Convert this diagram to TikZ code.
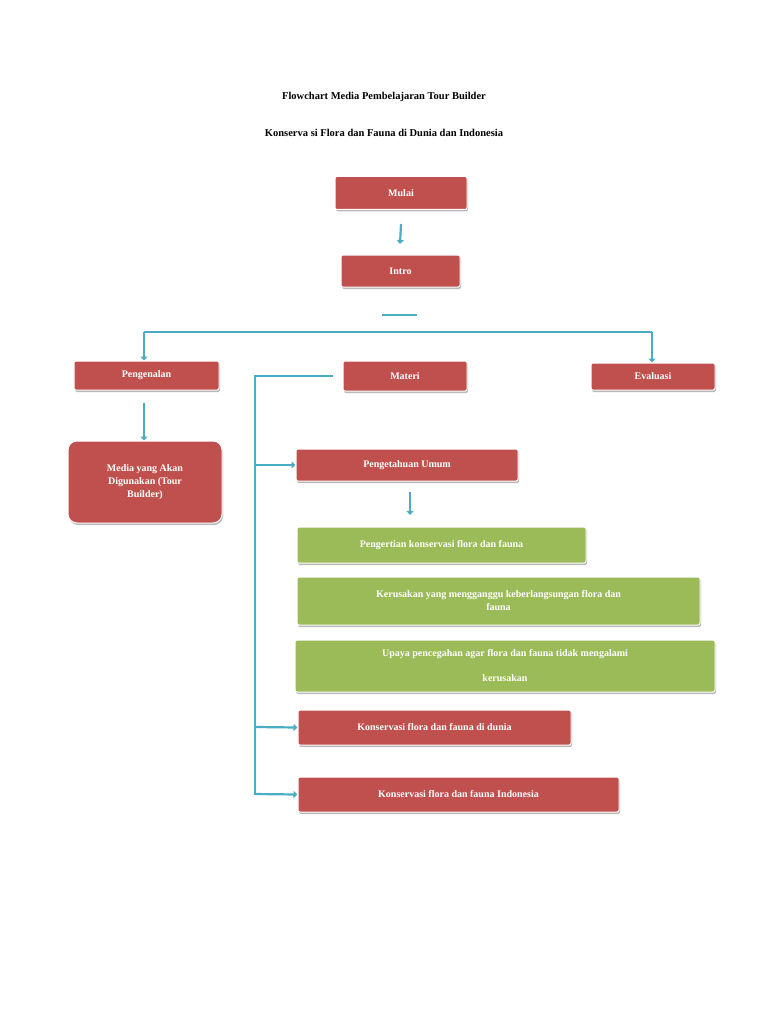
\documentclass[tikz,border=0pt]{standalone}
\usepackage{fontspec}
\setmainfont{Liberation Serif}
\usetikzlibrary{shadows,arrows.meta}
\definecolor{boxred}{HTML}{C0504D}
\definecolor{boxgreen}{HTML}{9BBB59}
\definecolor{link}{HTML}{4BACC6}
\begin{document}
\begin{tikzpicture}[x=1pt,y=-1pt,
  box/.style={draw=white,line width=1pt,rounded corners=2pt,text=white,font=\bfseries\fontsize{10}{13}\selectfont,
    align=center,inner sep=0pt,drop shadow={shadow xshift=1pt,shadow yshift=-2pt,fill=gray!55,opacity=1}},
  red/.style={box,fill=boxred},
  green/.style={box,fill=boxgreen},
  con/.style={draw=link,line width=2.2pt},
  arr/.style={con,-{Triangle[length=4pt,width=7pt]}}]
\useasboundingbox (0,0) rectangle (768,1024);
\node[font=\bfseries\fontsize{10.5}{13}\selectfont] (t1) at (384,97) {Flowchart Media Pembelajaran Tour Builder};
\node[font=\bfseries\fontsize{10.5}{13}\selectfont] (t2) at (384,133) {Konserva si Flora dan Fauna di Dunia dan Indonesia};
\node[red,minimum width=132,minimum height=33] (mulai) at (401,193) {Mulai};
\node[red,minimum width=119,minimum height=32] (intro) at (400.5,271) {Intro};
\node[red,minimum width=145,minimum height=29] (peng) at (146.5,375.5) {Pengenalan};
\node[red,minimum width=124,minimum height=30] (materi) at (405,376) {Materi};
\node[red,minimum width=124,minimum height=27] (eval) at (653,376.5) {Evaluasi};
\node[red,minimum width=154,minimum height=82,rounded corners=9pt] (media) at (145,482) {Media yang Akan\\Digunakan (Tour\\Builder)};
\node[red,minimum width=222,minimum height=32] (umum) at (407,465) {Pengetahuan Umum};
\node[green,minimum width=289,minimum height=36] (g1) at (441.5,545) {Pengertian konservasi flora dan fauna};
\node[green,minimum width=403,minimum height=48] (g2) at (498.5,601) {Kerusakan yang mengganggu keberlangsungan flora dan\\fauna};
\node[green,minimum width=420,minimum height=52,font=\bfseries\fontsize{10}{25}\selectfont] (g3) at (505,666) {Upaya pencegahan agar flora dan fauna tidak mengalami\\kerusakan};
\node[red,minimum width=273,minimum height=35] (dunia) at (434.5,727.5) {Konservasi flora dan fauna di dunia};
\node[red,minimum width=321,minimum height=35] (indo) at (458.5,794.5) {Konservasi flora dan fauna Indonesia};
% connectors
\coordinate (bar1) at (382,315);
\coordinate (bar2) at (417,315);
\draw[con] (bar1) -- (bar2);
\draw[arr] (mulai.south)++(0,14) coordinate (m1) -- (400,244);
\draw[arr] (144,332) -- (peng.north -| 144,0);
\draw[con] (144,332) -- (652,332);
\draw[arr] (652,332) -- (eval.north -| 652,0);
\draw[arr] (144,403) -- (media.north -| 144,0);
\draw[con] (materi.west)++(-10,0) coordinate (mw) -- (255,376) -- (255,795);
\draw[arr] (255,465) -- (umum.west);
\draw[arr] (410,492) -- (410,515);
\draw[arr] (255,727) -- (dunia.west);
\draw[arr] (255,794) -- (indo.west);
\end{tikzpicture}
\end{document}
